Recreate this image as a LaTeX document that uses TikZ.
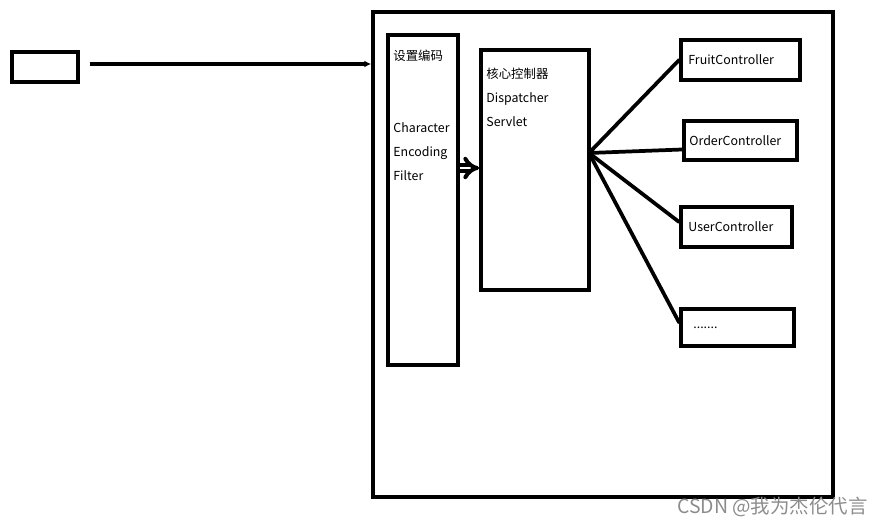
\documentclass[tikz,border=0pt]{standalone}
\usepackage{fontspec}
\setmainfont{Noto Sans CJK SC}
\usepackage{tikz}
\usetikzlibrary{calc}
\usetikzlibrary{arrows.meta, positioning}

\begin{document}
\begin{tikzpicture}[
  x=0.75pt, y=-0.75pt,
  box/.style={draw=black, line width=2.8pt, fill=white, inner sep=0pt},
  txt/.style={font=\fontsize{9.3}{18}\selectfont, align=left, inner sep=0pt,
              anchor=west},
  link/.style={line width=2.8pt, line cap=round},
  arrow/.style={line width=2.8pt, -{Latex[length=5pt,width=5pt]}},
  hollow/.style={double, double distance=2.2pt, line width=3pt,
                 -{Implies[length=4pt]}}
]
\useasboundingbox (0,0) rectangle (883,524);

%% -- boites ------------------------------------------------------
\node[box, minimum width=49.5pt, minimum height=22.5pt] (src) at (45,67) {};

\node[box, minimum width=345pt, minimum height=363.75pt] (outer) at (603,254.5) {};

\node[box, minimum width=52.5pt, minimum height=247.5pt] (filter) at (423,200) {};
\node[txt, anchor=north west] (filtertxt) at ($(filter.north west)+(7,17)$)
  {设置编码\\[36pt]Character\\Encoding\\Filter};

\node[box, minimum width=81pt, minimum height=180pt] (disp) at (535,170) {};
\node[txt, anchor=north west] (disptxt) at ($(disp.north west)+(7,20)$)
  {核心控制器\\Dispatcher\\Servlet};

%% -- controleurs ----------------------------------------------------
\node[box, minimum width=89.25pt, minimum height=30pt] (fruit) at (740.5,60) {};
\node[txt] (fruittxt) at ($(fruit.west)+(9,0)$) {FruitController};

\node[box, minimum width=84.75pt, minimum height=29.25pt] (order) at (740.5,140.5) {};
\node[txt] (ordertxt) at ($(order.west)+(7,0)$) {OrderController};

\node[box, minimum width=83.25pt, minimum height=30pt] (user) at (736.5,227) {};
\node[txt] (usertxt) at ($(user.west)+(9,0)$) {UserController};

\node[box, minimum width=84.75pt, minimum height=27.75pt] (more) at (737.5,327.5) {};
\node[txt] (moretxt) at ($(more.west)+(14,0)$) {.......};

\coordinate (hub) at (589,153);

%% -- fleches ----------------------------------------------------
\draw[arrow] ($(src.east)+(10,-3)$) -- (outer.west |- 0,64);
\draw[hollow] (filter.east |- 0,168) -- (disp.west |- 0,168);

\draw[link] (hub) -- (fruit.west);
\draw[link] (hub) -- ($(order.west)+(0,9)$);
\draw[link] (hub) -- ($(user.west)+(0,-5)$);
\draw[link] (hub) -- ($(more.west)+(0,-5)$);

%% -- filigrane ----------------------------------------------------
\node[font=\fontsize{14.6}{16}\selectfont, text=black!45, anchor=south east,
  inner sep=0pt] (mark) at (868,517) {CSDN @我为杰伦代言};

\end{tikzpicture}
\end{document}
